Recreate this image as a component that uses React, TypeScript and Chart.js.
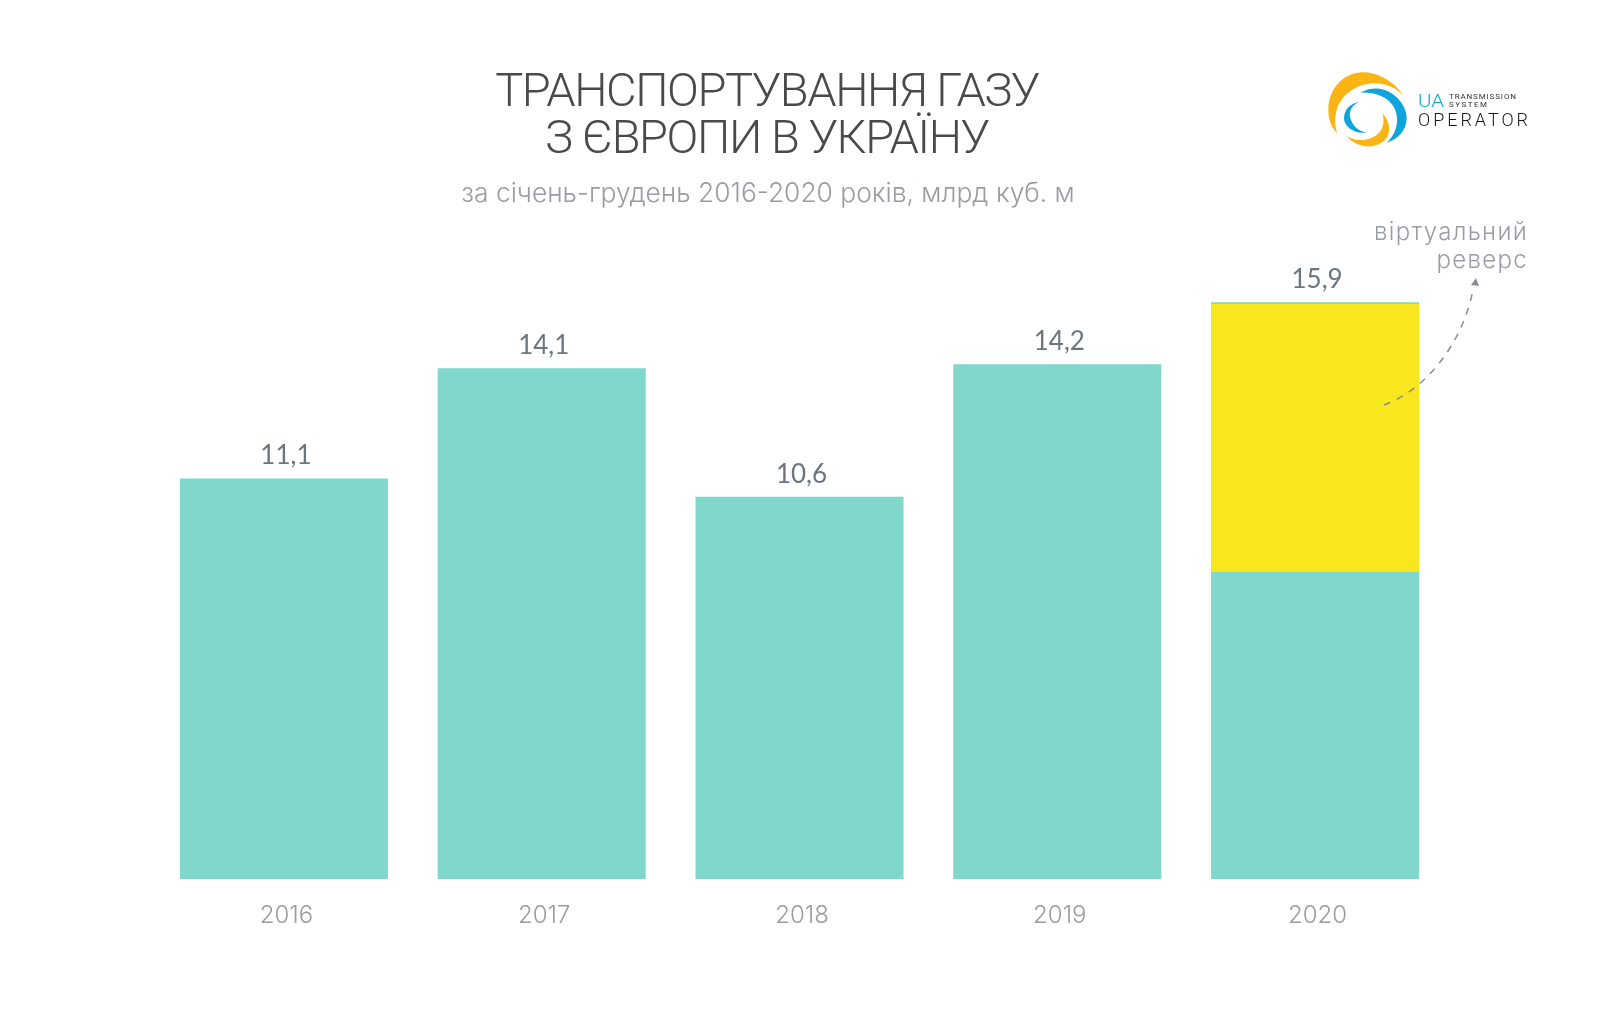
import { useEffect, useRef } from "react"
import { Chart, registerables, Plugin } from "chart.js"

Chart.register(...registerables)

const years = ["2016", "2017", "2018", "2019", "2020"]
// bar heights as measured on the picture, in bcm
const barValues = [11.04, 14.08, 10.54, 14.19, 15.9]
// the figures printed above the bars
const valueLabels = ["11,1", "14,1", "10,6", "14,2", "15,9"]
// 2020 only: part that was virtual reverse [from, to]
const virtualReverse = [null, null, null, null, [8.46, 15.85]]

const valueLabelPlugin: Plugin<"bar"> = {
  id: "valueLabels",
  afterDatasetsDraw(chart) {
    const ctx = chart.ctx
    const meta = chart.getDatasetMeta(1)
    ctx.save()
    ctx.font = "400 26px Lato"
    ctx.fillStyle = "#6b7580"
    ctx.textAlign = "center"
    ctx.textBaseline = "alphabetic"
    meta.data.forEach((bar, i) => {
      ctx.fillText(valueLabels[i], bar.x + 2, bar.y - 14)
    })
    ctx.restore()
  },
}

function Logo() {
  return (
    <svg
      width={1600}
      height={1020}
      style={{ position: "absolute", left: 0, top: 0, pointerEvents: "none" }}
    >
      {/* swirl, drawn in 3x units */}
      <g transform="translate(1280 50) scale(0.3333)">
        <path
          fill="#fab515"
          d="M372 138 C335 85 280 62 235 68 C180 75 145 125 145 180 C145 210 155 235 172 250 C165 230 163 205 170 180 C185 130 235 100 285 100 C320 100 350 115 372 138 Z"
        />
        <path
          fill="#0ea5dc"
          d="M240 128 C270 112 305 110 335 130 C365 150 380 180 380 205 C380 240 355 268 320 278 C345 255 355 225 350 195 C345 160 310 125 240 128 Z"
        />
        <path
          fill="#0ea5dc"
          d="M238 156 C210 160 192 180 192 205 C192 230 225 255 260 247 C235 245 215 225 210 200 C207 180 220 162 238 156 Z"
        />
        <path
          fill="#fab515"
          d="M307 190 C332 215 338 262 302 280 C275 297 228 292 200 258 C225 275 265 275 290 255 C310 240 315 215 307 190 Z"
        />
      </g>
      <text x={1418} y={107} fontFamily="Roboto" fontWeight={300} fontSize={18} fill="#0ea5dc" textLength={26} lengthAdjust="spacingAndGlyphs">
        UA
      </text>
      <text x={1449} y={99} fontFamily="Roboto" fontSize={8} fill="#333" textLength={67} lengthAdjust="spacing">
        TRANSMISSION
      </text>
      <text x={1449} y={107} fontFamily="Roboto" fontSize={8} fill="#333" textLength={38} lengthAdjust="spacing">
        SYSTEM
      </text>
      <text x={1418} y={126} fontFamily="Roboto" fontWeight={300} fontSize={18} fill="#1a1a1a" textLength={110} lengthAdjust="spacing">
        OPERATOR
      </text>

      {/* dashed arrow to the virtual reverse block */}
      <path
        d="M1384 405 C1425 390 1462 345 1473 290"
        fill="none"
        stroke="#8c8c94"
        strokeWidth={1.5}
        strokeDasharray="7 7"
      />
      <path d="M1476 278 L1471 285 L1479 286 Z" fill="#8c8c94" />
    </svg>
  )
}

export default function App() {
  const chartRef = useRef<HTMLCanvasElement>(null)

  useEffect(() => {
    document.body.style.margin = "0"
    if (!chartRef.current) return

    const chart = new Chart(chartRef.current, {
      type: "bar",
      data: {
        labels: years,
        datasets: [
          {
            data: virtualReverse as any,
            backgroundColor: "#f8e71c",
            grouped: false,
            borderWidth: 0,
            categoryPercentage: 1,
            barPercentage: 0.807,
          },
          {
            data: barValues,
            backgroundColor: "#7fd8cb",
            grouped: false,
            borderWidth: 0,
            categoryPercentage: 1,
            barPercentage: 0.807,
          },
        ],
      },
      options: {
        responsive: true,
        maintainAspectRatio: false,
        animation: false,
        layout: { padding: { left: 155, right: 156, top: 226, bottom: 0 } },
        plugins: {
          legend: { display: false },
          tooltip: { enabled: false },
        },
        scales: {
          x: {
            grid: { display: false, drawTicks: false },
            border: { display: false },
            afterFit: (scale) => {
              scale.height = 141
            },
            ticks: {
              padding: 22,
              labelOffset: 2.5,
              color: "#9a9ca5",
              font: { family: "Inter", size: 24, weight: 300 },
            },
          },
          y: {
            display: false,
            min: 0,
            max: 18,
          },
        },
      },
      plugins: [valueLabelPlugin],
    })

    return () => chart.destroy()
  }, [])

  const textBase: React.CSSProperties = {
    position: "absolute",
    whiteSpace: "nowrap",
    textAlign: "center",
  }

  return (
    <div style={{ position: "relative", width: 1600, height: 1020, background: "#fff", overflow: "hidden" }}>
      <canvas ref={chartRef} />
      <div
        style={{
          ...textBase,
          left: 367,
          width: 800,
          top: 66,
          fontFamily: "Roboto",
          fontWeight: 300,
          fontSize: 47,
          lineHeight: "47px",
          letterSpacing: -1.4,
          color: "#4a4a4a",
        }}
      >
        ТРАНСПОРТУВАННЯ ГАЗУ
        <br />З ЄВРОПИ В УКРАЇНУ
      </div>
      <div
        style={{
          ...textBase,
          left: 368,
          width: 800,
          top: 176,
          fontFamily: "Inter",
          fontWeight: 300,
          fontSize: 26.4,
          color: "#9a9ca5",
        }}
      >
        за січень-грудень 2016-2020 років, млрд куб. м
      </div>
      <div
        style={{
          ...textBase,
          right: 72,
          top: 218,
          textAlign: "right",
          fontFamily: "Inter",
          fontWeight: 300,
          fontSize: 24,
          lineHeight: "28px",
          letterSpacing: 1.3,
          color: "#9a9ca5",
        }}
      >
        віртуальний
        <br />
        реверс
      </div>
      <Logo />
    </div>
  )
}
